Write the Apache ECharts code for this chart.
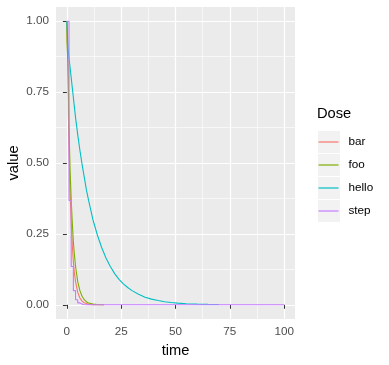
<!DOCTYPE html>
<html>
<head>
<meta charset="utf-8">
<script src="https://cdn.jsdelivr.net/npm/echarts@6/dist/echarts.min.js"></script>
<style>html,body{margin:0;padding:0;background:#fff}#c{width:389px;height:365px}</style>
</head>
<body>
<div id="c"></div>
<script>
const seriesNames = ['bar', 'foo', 'hello', 'step'];
const seriesColors = ['#F8766D', '#7CAE00', '#00BFC4', '#C77CFF'];

const barTime = [0, 0.3, 0.6, 0.7, 1, 1.5, 2, 2.5, 3, 3.5, 4, 5, 6, 7, 8, 10, 12, 15, 17];
const barValue = [1.00, 0.90, 0.80, 0.67, 0.54, 0.39, 0.29, 0.21, 0.15, 0.11, 0.082, 0.044, 0.024, 0.013, 0.007, 0.002, 0.0006, 0.0001, 0.0000];

const fooTime = [0, 0.05, 0.5, 1, 1.5, 2, 2.5, 3, 3.5, 4, 5, 6, 7, 8, 9, 10, 12, 14, 17];
const fooValue = [1.00, 0.93, 0.85, 0.62, 0.47, 0.37, 0.29, 0.22, 0.175, 0.135, 0.082, 0.05, 0.03, 0.018, 0.011, 0.0067, 0.0025, 0.0009, 0.0002];

const helloTime = [0, 0.6, 1, 2, 3, 4, 5, 6, 7, 8, 9, 10, 12, 14, 16, 18, 20, 22, 24, 26, 28, 30, 33, 36, 39, 42, 45, 48, 51, 55, 60, 65, 70];
const helloValue = [1.00, 0.90, 0.87, 0.80, 0.73, 0.66, 0.60, 0.545, 0.495, 0.45, 0.405, 0.368, 0.30, 0.247, 0.202, 0.165, 0.135, 0.11, 0.09, 0.074, 0.061, 0.05, 0.037, 0.027, 0.02, 0.015, 0.011, 0.008, 0.006, 0.004, 0.0025, 0.0015, 0.001];

const stepTime = [0, 1, 2, 3, 4, 5, 6, 7, 8, 9, 10, 100];
const stepValue = [1.00, 0.368, 0.135, 0.050, 0.018, 0.0067, 0.0025, 0.0009, 0.0003, 0.0001, 0.00005, 0.00005];

const xMajorTicks = [0, 25, 50, 75, 100];
const xMinorTicks = [12.5, 37.5, 62.5, 87.5];
const yMajorTicks = [0, 0.25, 0.5, 0.75, 1];
const yMinorTicks = [0.125, 0.375, 0.625, 0.875];

const zip = (t, v) => t.map((x, i) => [x, v[i]]);
const seriesData = [zip(barTime, barValue), zip(fooTime, fooValue), zip(helloTime, helloValue), zip(stepTime, stepValue)];

const FONT = 'Liberation Sans, Arial, sans-serif';
const chart = echarts.init(document.getElementById('c'));

const majorAxisCommon = {
  axisLine: {show: false},
  axisTick: {show: true, length: 4, lineStyle: {color: '#333333', width: 1}},
  splitLine: {show: true, lineStyle: {color: '#FFFFFF', width: 1.2}},
  axisLabel: {color: '#4D4D4D', fontSize: 11.7, fontFamily: FONT, margin: 7}
};

chart.setOption({
  animation: false,
  backgroundColor: '#FFFFFF',
  title: {
    text: 'Dose', left: 317, top: 106,
    textStyle: {fontSize: 14.7, fontWeight: 'normal', color: '#000', fontFamily: FONT},
    padding: 0
  },
  grid: {left: 56, top: 7, right: 94, bottom: 46, show: true, backgroundColor: '#EBEBEB', borderWidth: 0,
         containLabel: false, outerBoundsMode: 'none'},
  legend: {
    orient: 'vertical', left: 318.5, top: 130.5, itemGap: 0,
    itemWidth: 20, itemHeight: 1.2, icon: 'rect',
    data: seriesNames,
    textStyle: {fontSize: 11.7, fontFamily: FONT, color: '#000', lineHeight: 23, padding: [0, 0, 0, 5]},
    padding: 0
  },
  graphic: seriesNames.map((n, i) => ({
    type: 'rect', left: 317, top: 130 + i * 23, z: -1,
    shape: {width: 23, height: 23},
    style: {fill: '#F2F2F2', stroke: '#FFFFFF', lineWidth: 1}
  })),
  xAxis: [
    Object.assign({}, majorAxisCommon, {
      type: 'value', min: -5, max: 105,
      name: 'time', nameLocation: 'middle', nameGap: 24,
      nameTextStyle: {fontSize: 14.7, color: '#000', fontFamily: FONT},
      axisTick: Object.assign({}, majorAxisCommon.axisTick, {customValues: xMajorTicks}),
      axisLabel: Object.assign({}, majorAxisCommon.axisLabel, {customValues: xMajorTicks, formatter: v => String(v)})
    }),
    {
      type: 'value', min: -5, max: 105, position: 'bottom',
      axisLine: {show: false}, axisLabel: {show: false},
      axisTick: {show: false, customValues: xMinorTicks},
      splitLine: {show: true, lineStyle: {color: '#FFFFFF', width: 0.6}}
    }
  ],
  yAxis: [
    Object.assign({}, majorAxisCommon, {
      type: 'value', min: -0.05, max: 1.05,
      name: 'value', nameLocation: 'middle', nameGap: 35, nameMoveOverlap: false,
      nameTextStyle: {fontSize: 14.7, color: '#000', fontFamily: FONT},
      axisTick: Object.assign({}, majorAxisCommon.axisTick, {customValues: yMajorTicks}),
      axisLabel: Object.assign({}, majorAxisCommon.axisLabel, {customValues: yMajorTicks, formatter: v => v.toFixed(2)})
    }),
    {
      type: 'value', min: -0.05, max: 1.05, position: 'left',
      axisLine: {show: false}, axisLabel: {show: false},
      axisTick: {show: false, customValues: yMinorTicks},
      splitLine: {show: true, lineStyle: {color: '#FFFFFF', width: 0.6}}
    }
  ],
  series: seriesNames.map((n, i) => ({
    name: n, type: 'line', data: seriesData[i],
    xAxisIndex: 0, yAxisIndex: 0,
    step: n === 'step' ? 'end' : false,
    showSymbol: false, symbol: 'none',
    lineStyle: {color: seriesColors[i], width: 1.1},
    itemStyle: {color: seriesColors[i]},
    z: 2 + i
  }))
});
</script>
</body>
</html>
